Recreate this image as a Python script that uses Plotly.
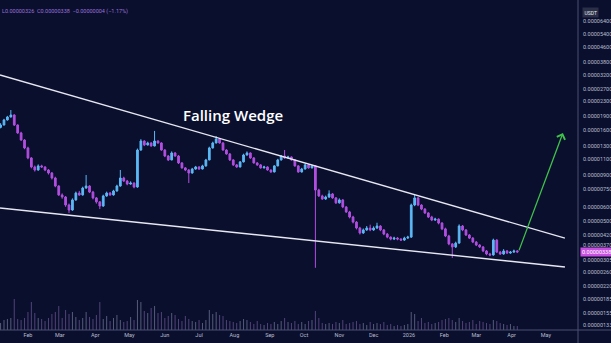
import math
import pandas as pd
import plotly.graph_objects as go

# ---------------- data (prices in units of 1e-8 USDT) ----------------
UNIT = 1e-8
start_date = "2025-01-08"
first_open = 1650

closes = [1701,1813,1884,1932,1701,1537,1405,1270,1118,997,
          959,1010,997,959,923,866,782,698,680,614,
          576,655,715,698,762,782,724,672,639,606,
          689,715,698,734,782,866,833,802,812,772,
          1237,1387,1319,1353,1302,1387,1353,1237,1146,1090,
          1191,1146,1049,985,959,923,971,997,971,1010,
          1090,1270,1353,1423,1353,1237,1176,1090,1023,997,
          1063,1161,1191,1118,1049,1023,985,997,959,935,
          1010,1090,1146,1118,1132,1090,1010,935,971,1023,
          985,1010,743,689,663,680,707,672,631,655,
          599,562,527,494,458,430,447,458,447,458,
          470,447,424,408,398,403,398,393,403,408,
          614,672,614,583,555,527,507,513,488,453,
          414,374,360,378,470,447,419,403,383,369,
          360,342,329,325,393,337,329,342,333,337,
          342,338]

highs = [1740,1840,1910,2059,1950,1715,1560,1420,1290,1130,
         1015,1030,1025,1005,970,935,880,790,712,688,
         625,668,728,735,775,900,790,735,680,645,
         700,728,725,745,795,959,880,845,830,820,
         1260,1420,1400,1375,1365,1577,1400,1365,1250,1160,
         1215,1205,1160,1060,995,970,985,1010,1005,1025,
         1105,1290,1375,1478,1435,1365,1250,1190,1100,1035,
         1075,1180,1215,1200,1130,1060,1035,1012,1005,965,
         1020,1105,1160,1237,1150,1140,1100,1020,985,1040,
         1030,1025,1020,755,700,692,740,715,680,668,
         662,605,570,535,500,465,455,470,478,468,
         490,475,452,430,412,410,408,402,410,415,
         625,698,680,620,590,560,535,522,518,493,
         460,420,378,385,480,476,452,424,408,388,
         373,364,346,334,400,397,342,350,346,342,
         348,346]

lows = [1630,1690,1800,1870,1680,1520,1390,1250,1100,980,
        940,950,985,945,905,850,770,690,665,600,
        555,570,648,690,692,755,715,660,625,583,
        600,682,690,692,728,775,825,790,795,760,
        765,1225,1300,1310,1290,1295,1340,1225,1130,1075,
        1085,1135,1035,975,945,812,915,962,960,965,
        1000,1085,1260,1345,1340,1225,1165,1075,1010,985,
        990,1055,1150,1105,1040,1010,975,978,950,925,
        930,1005,1082,1105,1110,1080,1000,925,928,965,
        975,978,276,680,655,655,672,665,622,625,
        590,555,518,486,450,422,425,442,440,442,
        452,440,418,402,392,393,392,388,389,398,
        404,605,605,575,548,520,500,502,480,446,
        408,368,313,355,375,440,414,398,378,364,
        355,337,324,320,322,333,325,326,329,330,
        334,333]

volumes = [7,10,11,12,31,11,10,12,18,28,
           17,12,11,9,12,16,18,24,12,20,
           16,18,13,10,12,18,13,11,15,28,
           11,14,9,12,15,10,8,9,13,10,
           30,28,19,17,22,24,17,18,12,14,
           17,15,11,9,14,11,9,8,10,7,
           10,20,16,18,15,14,10,9,8,7,
           9,11,10,8,6,9,6,5,7,6,
           8,6,9,12,8,7,9,6,8,6,
           9,10,19,12,7,6,7,6,8,7,
           10,6,7,8,9,6,7,5,8,6,
           7,6,8,5,6,4,5,4,5,6,
           18,16,9,12,7,8,6,7,8,10,
           11,12,10,8,12,9,7,8,10,6,
           9,8,7,6,10,9,7,6,5,6,
           4,4]

price_ticks = [6400,5400,4600,3800,3200,2700,2300,1900,1600,1300,1100,
               900,750,600,500,420,370,305,260,220,185,155,133]
month_ticks = ["2025-02-01","2025-03-01","2025-04-01","2025-05-01","2025-06-01",
               "2025-07-01","2025-08-01","2025-09-01","2025-10-01","2025-11-01",
               "2025-12-01","2026-01-01","2026-02-01","2026-03-01","2026-04-01",
               "2026-05-01"]
month_labels = ["Feb","Mar","Apr","May","Jun","Jul","Aug","Sep","Oct","Nov",
                "Dec","2026","Feb","Mar","Apr","May"]

# wedge lines and breakout arrow (date, price)
upper_line = (["2025-01-07 12:00", "2026-05-17 18:00"], [3216, 403])
lower_line = (["2025-01-07 12:00", "2026-05-17 18:00"], [591, 279])
arrow_tail = ("2026-04-07", 338)
arrow_tip = ("2026-05-16", 1536)
last_close = 338

# ---------------- build ----------------
dates = pd.date_range(start_date, periods=len(closes), freq="3D")
opens = [first_open] + closes[:-1]

BG = "#0a0f2e"
UP = "#5cb8f5"
DOWN = "#b24fe0"

fig = go.Figure()

vol_colors = ["rgba(195,200,235,0.40)" if c >= o else "rgba(185,140,225,0.40)"
              for o, c in zip(opens, closes)]
fig.add_trace(go.Bar(x=dates, y=volumes, yaxis="y2", marker_color=vol_colors,
                     marker_line_width=0, width=0.9 * 86400000,
                     hoverinfo="skip", showlegend=False))

fig.add_trace(go.Candlestick(
    x=dates,
    open=[v * UNIT for v in opens], high=[v * UNIT for v in highs],
    low=[v * UNIT for v in lows], close=[v * UNIT for v in closes],
    increasing=dict(line=dict(color=UP, width=1), fillcolor=UP),
    decreasing=dict(line=dict(color=DOWN, width=1), fillcolor=DOWN),
    whiskerwidth=0, showlegend=False))

for xs, ys in (upper_line, lower_line):
    fig.add_trace(go.Scatter(x=xs, y=[v * UNIT for v in ys], mode="lines",
                             line=dict(color="#e6e7f0", width=1.4),
                             hoverinfo="skip", showlegend=False))

fig.add_annotation(x=arrow_tip[0], y=math.log10(arrow_tip[1] * UNIT),
                   ax=arrow_tail[0], ay=math.log10(arrow_tail[1] * UNIT),
                   xref="x", yref="y", axref="x", ayref="y", text="",
                   showarrow=True, arrowhead=4, arrowsize=1.3, arrowwidth=1.3,
                   arrowcolor="#3fc24a")

fig.add_annotation(x=233 / 578, y=1 - 115 / 330, xref="paper", yref="paper",
                   text="Falling Wedge", showarrow=False,
                   font=dict(family="Open Sans", size=15, color="#ffffff", weight=600))

fig.add_annotation(x=0.0, y=1 - 6 / 330, xref="paper", yref="paper", xanchor="left",
                   text="L0.00000326  C0.00000338  −0.00000004 (−1.17%)", showarrow=False,
                   font=dict(family="Roboto", size=5.5, color="#9d6fd8"))

fig.add_annotation(x=582 / 578, y=1 - 7.5 / 330, xref="paper", yref="paper", xanchor="left",
                   text="USDT", showarrow=False, bgcolor="#2a2f47", borderpad=1.5,
                   font=dict(family="Roboto", size=5, color="#e8e8ee"))

fig.add_annotation(x=580 / 578, y=math.log10(last_close * UNIT), xref="paper", yref="y",
                   xanchor="left", text=f"{last_close * UNIT:.8f}", showarrow=False,
                   bgcolor="#c94fe3", borderpad=1,
                   font=dict(family="Roboto", size=5.5, color="#ffffff"))

# frame lines (price-scale separator and time-scale line)
fig.add_shape(type="line", xref="paper", yref="paper", x0=1, x1=1, y0=-13 / 330, y1=1,
              line=dict(color="#4a5072", width=1))
fig.add_shape(type="line", xref="paper", yref="paper", x0=0, x1=611 / 578, y0=0, y1=0,
              line=dict(color="#4a5072", width=1))

ymin, ymax = 125 * UNIT, 8355 * UNIT
fig.update_layout(
    width=611, height=343,
    margin=dict(l=0, r=33, t=0, b=13),
    paper_bgcolor=BG, plot_bgcolor=BG,
    showlegend=False, boxgap=0.28,
    xaxis=dict(type="date", range=["2025-01-07 12:00", "2026-05-29 05:00"],
               rangeslider=dict(visible=False), showgrid=False, zeroline=False,
               showline=False, ticks="", tickvals=month_ticks, ticktext=month_labels,
               tickfont=dict(family="Roboto", size=5.5, color="#b9bdcc")),
    yaxis=dict(type="log", side="right", range=[math.log10(ymin), math.log10(ymax)],
               showgrid=False, zeroline=False, showline=False, ticks="",
               tickvals=[v * UNIT for v in price_ticks],
               ticktext=[f"{v * UNIT:.8f}" for v in price_ticks],
               ticklabelstandoff=4,
               tickfont=dict(family="Roboto", size=5.5, color="#b9bdcc")),
    yaxis2=dict(overlaying="y", range=[0, 330], visible=False),
)

fig.write_html("out.html")
